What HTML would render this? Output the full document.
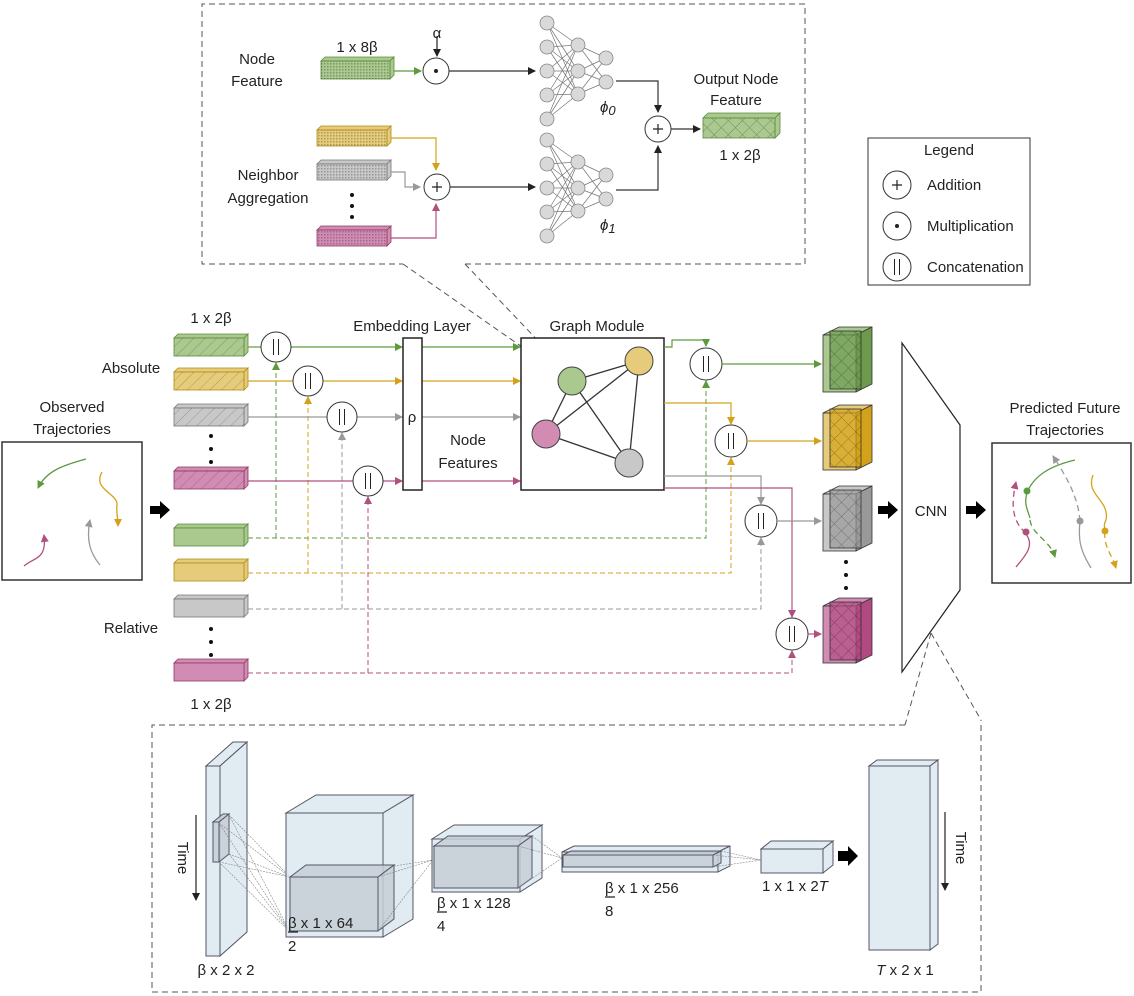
<!DOCTYPE html>
<html><head><meta charset="utf-8"><style>
html,body{margin:0;padding:0;background:#fff}
svg{display:block}
text{font-family:"Liberation Sans",sans-serif;font-size:15px;fill:#222}
</style></head><body>
<svg id="s" width="1134" height="996" viewBox="0 0 1134 996" xmlns="http://www.w3.org/2000/svg">
<defs>
<marker id="ag" markerWidth="8" markerHeight="8" refX="7" refY="4" orient="auto" markerUnits="userSpaceOnUse"><path d="M0,0L8,4L0,8z" fill="#5c9a3c"/></marker>
<marker id="ay" markerWidth="8" markerHeight="8" refX="7" refY="4" orient="auto" markerUnits="userSpaceOnUse"><path d="M0,0L8,4L0,8z" fill="#d4a21a"/></marker>
<marker id="ae" markerWidth="8" markerHeight="8" refX="7" refY="4" orient="auto" markerUnits="userSpaceOnUse"><path d="M0,0L8,4L0,8z" fill="#999"/></marker>
<marker id="ap" markerWidth="8" markerHeight="8" refX="7" refY="4" orient="auto" markerUnits="userSpaceOnUse"><path d="M0,0L8,4L0,8z" fill="#b0507e"/></marker>
<marker id="ak" markerWidth="8" markerHeight="8" refX="7" refY="4" orient="auto" markerUnits="userSpaceOnUse"><path d="M0,0L8,4L0,8z" fill="#222"/></marker>
<pattern id="hatch" width="8" height="8" patternUnits="userSpaceOnUse" patternTransform="rotate(45)"><line x1="0" y1="0" x2="0" y2="8" stroke="rgba(0,0,0,0.25)" stroke-width="1"/></pattern>
<pattern id="dots" width="3" height="3" patternUnits="userSpaceOnUse"><rect width="1.5" height="1.5" fill="rgba(0,0,0,0.25)"/></pattern>
<pattern id="cross" width="10" height="10" patternUnits="userSpaceOnUse" patternTransform="rotate(45)"><path d="M0,0H10M0,0V10" stroke="rgba(0,0,0,0.3)" stroke-width="1" fill="none"/></pattern>
</defs>
<g id="g"></g>
<text x="257" y="64" text-anchor="middle">Node</text>
<text x="257" y="86" text-anchor="middle">Feature</text>
<text x="357" y="52" text-anchor="middle">1 x 8β</text>
<text x="437" y="38" text-anchor="middle" font-size="16">α</text>
<text x="600" y="112" font-size="18" font-style="italic">ϕ<tspan font-size="13" dy="3">0</tspan></text>
<text x="600" y="230" font-size="18" font-style="italic">ϕ<tspan font-size="13" dy="3">1</tspan></text>
<text x="268" y="180" text-anchor="middle">Neighbor</text>
<text x="268" y="203" text-anchor="middle">Aggregation</text>
<text x="736" y="84" text-anchor="middle">Output Node</text>
<text x="736" y="105" text-anchor="middle">Feature</text>
<text x="740" y="160" text-anchor="middle">1 x 2β</text>
<text x="949" y="155" text-anchor="middle">Legend</text>
<text x="927" y="190">Addition</text>
<text x="927" y="231">Multiplication</text>
<text x="927" y="272">Concatenation</text>
<text x="72" y="412" text-anchor="middle">Observed</text>
<text x="72" y="434" text-anchor="middle">Trajectories</text>
<text x="131" y="373" text-anchor="middle">Absolute</text>
<text x="131" y="633" text-anchor="middle">Relative</text>
<text x="211" y="323" text-anchor="middle">1 x 2β</text>
<text x="211" y="709" text-anchor="middle">1 x 2β</text>
<text x="412" y="331" text-anchor="middle">Embedding Layer</text>
<text x="597" y="331" text-anchor="middle">Graph Module</text>
<text x="412" y="422" text-anchor="middle" font-size="18">ρ</text>
<text x="468" y="445" text-anchor="middle">Node</text>
<text x="468" y="468" text-anchor="middle">Features</text>
<text x="931" y="516" text-anchor="middle">CNN</text>
<text x="1065" y="413" text-anchor="middle">Predicted Future</text>
<text x="1065" y="435" text-anchor="middle">Trajectories</text>
<text x="226" y="975" text-anchor="middle" font-size="14">β x 2 x 2</text>
<text x="288" y="928" font-size="14">β x 1 x 64</text><text x="288" y="951" font-size="14">2</text>
<text x="437" y="908" font-size="14">β x 1 x 128</text><text x="437" y="931" font-size="14">4</text>
<text x="605" y="893" font-size="14">β x 1 x 256</text><text x="605" y="916" font-size="14">8</text>
<text x="762" y="891" font-size="14">1 x 1 x 2<tspan font-style="italic">T</tspan></text>
<text x="905" y="975" text-anchor="middle" font-size="14"><tspan font-style="italic">T</tspan> x 2 x 1</text>
<text transform="translate(178,858) rotate(90)" text-anchor="middle" font-size="14">Time</text>
<text transform="translate(956,848) rotate(90)" text-anchor="middle" font-size="14">Time</text>
</svg>
<script>
var G=document.getElementById('g'),NS='http://www.w3.org/2000/svg';
function el(t,a){var e=document.createElementNS(NS,t);for(var k in a)e.setAttribute(k,a[k]);G.appendChild(e);return e;}
function L(p,c,o){o=o||{};var a={d:p,fill:'none',stroke:c,'stroke-width':o.w||1.2};if(o.d)a['stroke-dasharray']=o.d;if(o.m)a['marker-end']='url(#'+o.m+')';return el('path',a);}
var C={g:['#a9c98f','#5c8a3c','#5c9a3c','ag','#6e9a4e'],y:['#e6cc7a','#b08a1a','#d4a21a','ay','#d4a21a'],e:['#c8c8c8','#777','#999','ae','#999'],p:['#d28cb4','#8e3a62','#b0507e','ap','#b04a80']};
function bar(x,y,w,h,c,pat,d){d=d||4;var f=C[c];
 el('path',{d:'M'+x+','+y+'l'+d+','+(-d)+'h'+w+'l'+(-d)+','+d+'z',fill:f[0],stroke:f[1],'stroke-width':0.8});
 el('path',{d:'M'+(x+w)+','+y+'l'+d+','+(-d)+'v'+h+'l'+(-d)+','+d+'z',fill:f[0],stroke:f[1],'stroke-width':0.8});
 el('rect',{x:x,y:y,width:w,height:h,fill:f[0],stroke:f[1],'stroke-width':0.8});
 if(pat)el('rect',{x:x,y:y,width:w,height:h,fill:'url(#'+pat+')',stroke:'none'});}
function circ(x,y,r,sym){el('circle',{cx:x,cy:y,r:r,fill:'#fff',stroke:'#333','stroke-width':1});
 if(sym=='+'){L('M'+(x-5)+','+y+'h10M'+x+','+(y-5)+'v10','#222');}
 else if(sym=='.'){el('circle',{cx:x,cy:y,r:2,fill:'#222'});}
 else {L('M'+(x-2.5)+','+(y-8)+'v16M'+(x+2.5)+','+(y-8)+'v16','#222',{w:1});}}
function dots(x,ys){ys.forEach(function(y){el('circle',{cx:x,cy:y,r:2,fill:'#111'});});}
L('M465,264H805V4H202V264H403','#555',{d:'6,4',w:1});
L('M403,264L558,372M465,264L563,367','#555',{d:'6,4',w:1});
bar(321,61,69,18,'g','dots');
L('M394,71H421','#5c9a3c',{m:'ag'});
L('M437,36V56','#222',{m:'ak'});
circ(436,71,13,'.');
L('M449,71H535','#333',{m:'ak'});
function nn(oy){var c1=[0,24,48,72,96].map(function(v){return [547,oy+v]}),c2=[22,48,71].map(function(v){return [578,oy+v]}),c3=[35,59].map(function(v){return [606,oy+v]});
 c1.forEach(function(a){c2.forEach(function(b){L('M'+a[0]+','+a[1]+'L'+b[0]+','+b[1],'#777',{w:0.7});});});
 c2.forEach(function(a){c3.forEach(function(b){L('M'+a[0]+','+a[1]+'L'+b[0]+','+b[1],'#777',{w:0.7});});});
 c1.concat(c2,c3).forEach(function(a){el('circle',{cx:a[0],cy:a[1],r:7,fill:'#d9d9d9',stroke:'#888','stroke-width':0.8});});}
nn(23);nn(140);
L('M616,81H658V112','#333',{m:'ak'});
L('M616,190H658V146','#333',{m:'ak'});
circ(658,129,13,'+');
L('M671,129H700','#333',{m:'ak'});
bar(703,118,72,20,'g','cross',5);
bar(317,130,70,16,'y','dots');bar(317,164,70,16,'e','dots');bar(317,230,70,16,'p','dots');
dots(352,[195,206,217]);
L('M391,138H436V170','#d4a21a',{m:'ay'});
L('M391,172H405V187H420','#999',{m:'ae'});
L('M391,238H436V204','#b0507e',{m:'ap'});
circ(437,187,13,'+');
L('M450,187H535','#333',{m:'ak'});
el('rect',{x:868,y:138,width:162,height:147,fill:'#fff',stroke:'#333','stroke-width':1});
circ(897,185,14,'+');circ(897,226,14,'.');circ(897,267,14,'|');
el('rect',{x:2,y:442,width:140,height:138,fill:'#fff',stroke:'#333','stroke-width':1.5});
L('M86,459C60,466 46,472 38,488','#5c9a3c',{w:1.3,m:'ag'});
L('M102,472C92,490 118,493 117,505C116,512 118,518 118,526','#d4a21a',{w:1.3,m:'ay'});
L('M24,566C34,557 47,560 44,535','#b0507e',{w:1.3,m:'ap'});
L('M100,565C90,553 86,540 90,520','#999',{w:1.3,m:'ae'});
el('path',{d:'M150,506h10v-5l10,9l-10,9v-5h-10z',fill:'#000'});
el('path',{d:'M878,506h10v-5l10,9l-10,9v-5h-10z',fill:'#000'});
el('path',{d:'M966,506h10v-5l10,9l-10,9v-5h-10z',fill:'#000'});
var ab=[['g',338],['y',372],['e',408],['p',471]],rb=[['g',528],['y',563],['e',599],['p',663]];
ab.forEach(function(b){bar(174,b[1],70,18,b[0],'hatch');});
rb.forEach(function(b){bar(174,b[1],70,18,b[0]);});
dots(211,[436,449,462]);dots(211,[629,642,655]);
var cx=[276,308,342,368],ay=[347,381,417,481],ry=[538,573,609,673];
var ox=[706,731,761,792],oy=[364,441,521,634];
['g','y','e','p'].forEach(function(k,i){var f=C[k];
 L('M248,'+ry[i]+'H'+ox[i]+'V'+(oy[i]+17),f[2],{d:'5,3',m:f[3],w:1});
 L('M'+cx[i]+','+ry[i]+'V'+(ay[i]+16),f[2],{d:'5,3',m:f[3],w:1});
 L('M248,'+ay[i]+'H'+(cx[i]-15),f[2]);
 L('M'+(cx[i]+15)+','+ay[i]+'H402',f[2],{m:f[3]});
 L('M422,'+ay[i]+'H520',f[2],{m:f[3]});
 circ(cx[i],ay[i],15,'|');
});
el('rect',{x:403,y:338,width:19,height:152,fill:'#fff',stroke:'#222','stroke-width':1.5});
el('rect',{x:521,y:338,width:143,height:152,fill:'#fff',stroke:'#222','stroke-width':1.5});
var N={g:[572,381],y:[639,361],p:[546,434],e:[629,463]};
[['g','y'],['g','p'],['g','e'],['y','p'],['y','e'],['p','e']].forEach(function(q){L('M'+N[q[0]]+'L'+N[q[1]],'#333',{w:1.3});});
for(var k in N){el('circle',{cx:N[k][0],cy:N[k][1],r:14,fill:C[k][0],stroke:'#444','stroke-width':1});}
L('M664,347H672V340H706V346','#5c9a3c',{m:'ag'});
L('M664,403H731V424','#d4a21a',{m:'ay'});
L('M664,476H761V504','#999',{m:'ae'});
L('M664,488H792V617','#b0507e',{m:'ap'});
var cubes=[['g',335],['y',413],['e',494],['p',606]];
['g','y','e','p'].forEach(function(k,i){var f=C[k];circ(ox[i],oy[i],16,'|');
 L('M'+(ox[i]+16)+','+oy[i]+'H821',f[2],{m:f[3]});
 var y=cubes[i][1];
 el('path',{d:'M823,'+y+'l16,-8h33l-16,8z',fill:f[0],stroke:'#333','stroke-width':0.8});
 el('path',{d:'M856,'+y+'l16,-8v57l-16,8z',fill:f[4],stroke:'#333','stroke-width':0.8});
 el('rect',{x:823,y:y,width:33,height:57,fill:f[0],stroke:'#333','stroke-width':0.8});
 el('rect',{x:830,y:y-4,width:31,height:58,fill:f[4],'fill-opacity':0.7,stroke:'#333','stroke-width':0.8});
 el('rect',{x:830,y:y-4,width:31,height:58,fill:'url(#cross)'});
});
dots(846,[562,575,588]);
el('path',{d:'M902,343L960,425V590L902,672Z',fill:'#fff',stroke:'#222','stroke-width':1.2});
el('rect',{x:992,y:443,width:139,height:140,fill:'#fff',stroke:'#333','stroke-width':1.5});
L('M1075,460C1050,466 1035,475 1027,492C1024,505 1027,508 1030,518','#5c9a3c',{w:1.3});
L('M1030,520C1032,535 1050,540 1055,557','#5c9a3c',{w:1.3,d:'6,4',m:'ag'});
el('circle',{cx:1027,cy:491,r:3.5,fill:'#5c9a3c'});
L('M1080,521C1078,495 1065,475 1053,456','#999',{w:1.3,d:'6,4',m:'ae'});
L('M1091,568C1080,550 1078,540 1080,521','#999',{w:1.3});
el('circle',{cx:1080,cy:521,r:3.5,fill:'#999'});
L('M1016,567C1025,556 1035,546 1026,534','#b0507e',{w:1.3});
L('M1026,533C1010,520 1012,500 1016,482','#b0507e',{w:1.3,d:'6,4',m:'ap'});
el('circle',{cx:1026,cy:532,r:3.5,fill:'#b0507e'});
L('M1093,475C1085,495 1110,500 1106,520C1103,525 1105,528 1105,531','#d4a21a',{w:1.3});
L('M1105,532C1103,545 1112,555 1116,568','#d4a21a',{w:1.3,d:'6,4',m:'ay'});
el('circle',{cx:1105,cy:531,r:3.5,fill:'#d4a21a'});
L('M905,725H152V992H981V720','#555',{d:'6,4',w:1});
L('M931,633L905,725M931,633L981,720','#555',{d:'6,4',w:1});
function box(x,y,w,h,dx,dy,fill,sw){sw=sw||1;
 el('path',{d:'M'+x+','+y+'l'+dx+','+(-dy)+'h'+w+'l'+(-dx)+','+dy+'z',fill:fill,stroke:'#556','stroke-width':sw,'fill-opacity':0.85});
 el('path',{d:'M'+(x+w)+','+y+'l'+dx+','+(-dy)+'v'+h+'l'+(-dx)+','+dy+'z',fill:fill,stroke:'#556','stroke-width':sw,'fill-opacity':0.85});
 el('rect',{x:x,y:y,width:w,height:h,fill:fill,stroke:'#556','stroke-width':sw,'fill-opacity':0.85});}
var lb='#dce8f0',db='#c5ced6';
box(206,766,14,190,27,24,lb);
box(213,822,6,40,10,8,db);
function fan(ps,qs){ps.forEach(function(a){qs.forEach(function(b){L('M'+a+'L'+b,'#888',{w:0.6,d:'2,1'});});});}
fan([[219,823],[229,815],[219,862],[229,854]],[[290,877],[290,932]]);
box(286,813,97,124,30,18,lb);
box(290,877,88,54,16,12,db);
fan([[378,877],[378,931],[394,866]],[[433,860]]);
box(432,839,88,53,22,14,lb);
box(434,846,84,42,14,10,db);
fan([[518,846],[518,888],[532,836]],[[562,858]]);
box(562,852,156,20,12,6,lb);
box(563,855,150,12,8,4,db);
fan([[713,855],[713,867],[721,851]],[[761,860]]);
box(761,849,62,24,10,8,lb);
el('path',{d:'M838,851h10v-5l10,10l-10,10v-5h-10z',fill:'#000'});
box(869,766,61,184,8,6,lb);
L('M196,815V900','#222',{m:'ak'});
L('M945,812V890','#222',{m:'ak'});
L('M288,932h10M437,912h10M605,897h10','#222',{w:1.2});
</script>
</body></html>
